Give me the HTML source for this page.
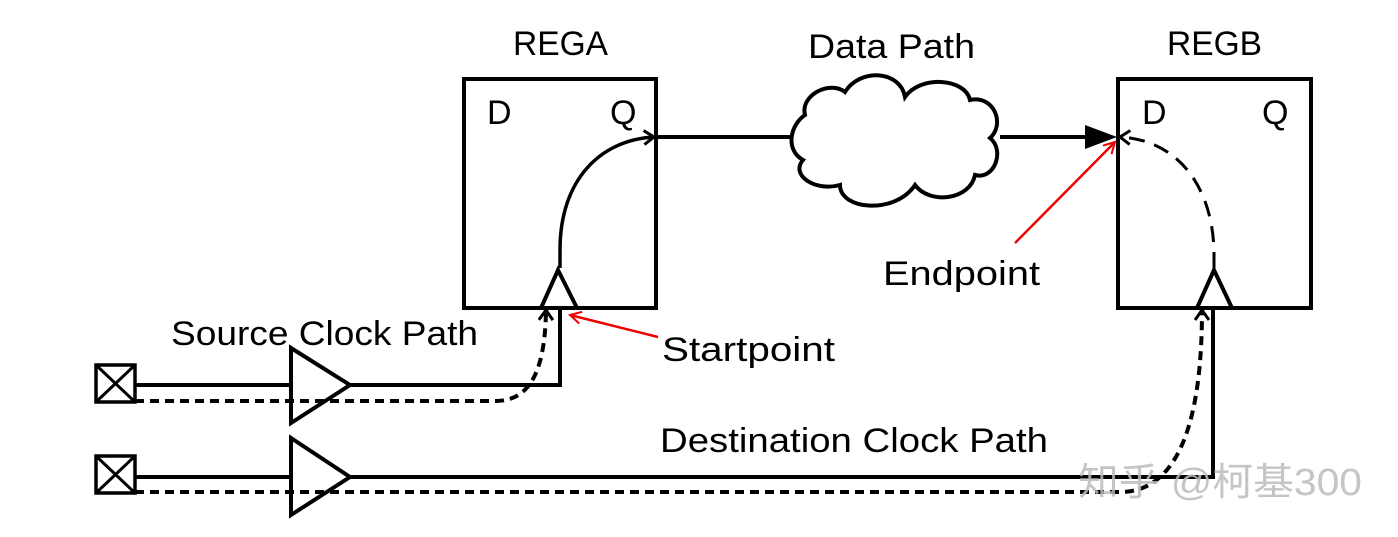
<!DOCTYPE html>
<html><head><meta charset="utf-8"><style>
html,body{margin:0;padding:0;background:#fff;}
svg{display:block}
text{font-family:"Liberation Sans","Noto Sans CJK SC",sans-serif;}
</style></head><body>
<svg width="1398" height="537" viewBox="0 0 1398 537" xmlns="http://www.w3.org/2000/svg">
<defs>
<marker id="open" markerWidth="16" markerHeight="16" refX="11" refY="8" orient="auto" markerUnits="userSpaceOnUse">
<path d="M1,1 L11,8 L1,15" fill="none" stroke="#000" stroke-width="3"/></marker>
<marker id="red" markerWidth="16" markerHeight="16" refX="12" refY="8" orient="auto" markerUnits="userSpaceOnUse">
<path d="M1,2 L12,8 L1,14" fill="none" stroke="#e00" stroke-width="2"/></marker>
</defs>
<g fill="none" stroke="#000" stroke-width="4">
<rect x="464" y="79" width="192" height="229"/>
<rect x="1118" y="79" width="193" height="229"/>
<path d="M541,308 L558,270 L577,308"/>
<path d="M1197,308 L1214,270 L1232,308"/>
<rect x="96" y="365" width="39" height="37" stroke-width="3.5"/>
<path d="M96,365 L135,402 M135,365 L96,402" stroke-width="3"/>
<rect x="96" y="456" width="39" height="37" stroke-width="3.5"/>
<path d="M96,456 L135,493 M135,456 L96,493" stroke-width="3"/>
<path d="M291,348 L350,385 L291,423 Z"/>
<path d="M291,438 L350,477 L291,515 Z"/>
<path d="M135,385 L291,385 M350,385 L560,385 L560,308"/>
<path d="M135,477 L291,477 M350,477 L1213,477 L1213,308"/>
<path d="M656,137 L793,137"/>
<path d="M1000,137 L1090,137"/>
</g>
<path d="M1085,125 L1117,137 L1085,149 Z" fill="#000"/>
<path d="M805,115 C800,95 830,80 845,92 C860,68 900,70 905,97 C920,75 965,78 970,100 C995,95 1005,125 990,138 C1005,150 995,180 975,175 C970,200 930,205 915,185 C895,215 840,210 840,185 C815,192 790,175 803,160 C785,150 790,125 805,115 Z" fill="#fff" stroke="#000" stroke-width="4"/>
<path d="M560,268 L560,250 C560,180 600,140 654,137" fill="none" stroke="#000" stroke-width="3.5" marker-end="url(#open)"/>
<path d="M1214,268 L1214,255 C1214,190 1180,140 1120,137" fill="none" stroke="#000" stroke-width="3" stroke-dasharray="16,10" marker-end="url(#open)"/>
<path d="M135,401 L495,401 C525,401 545,380 546,310" fill="none" stroke="#000" stroke-width="4" stroke-dasharray="9,6" marker-end="url(#open)"/>
<path d="M135,492 L1120,492 C1170,492 1202,440 1202,310" fill="none" stroke="#000" stroke-width="4" stroke-dasharray="9,6" marker-end="url(#open)"/>
<path d="M658,337 L570,315" fill="none" stroke="#e00" stroke-width="2.5" marker-end="url(#red)"/>
<path d="M1015,243 L1115,142" fill="none" stroke="#e00" stroke-width="2.5" marker-end="url(#red)"/>
<g font-size="34" fill="#000">
<text x="513" y="55" textLength="95" lengthAdjust="spacingAndGlyphs">REGA</text>
<text x="808" y="58" textLength="167" lengthAdjust="spacingAndGlyphs">Data Path</text>
<text x="1167" y="55" textLength="95" lengthAdjust="spacingAndGlyphs">REGB</text>
<text x="487" y="124">D</text>
<text x="610" y="124">Q</text>
<text x="1142" y="124">D</text>
<text x="1262" y="124">Q</text>
<text x="883" y="285" textLength="157" lengthAdjust="spacingAndGlyphs">Endpoint</text>
<text x="171" y="345" textLength="307" lengthAdjust="spacingAndGlyphs">Source Clock Path</text>
<text x="662" y="361" textLength="173" lengthAdjust="spacingAndGlyphs">Startpoint</text>
<text x="660" y="452" textLength="388" lengthAdjust="spacingAndGlyphs">Destination Clock Path</text>
</g>
<text x="1078" y="495" font-size="38" fill="#bbb" opacity="0.85" textLength="284" lengthAdjust="spacingAndGlyphs">知乎 @柯基300</text>
</svg>
</body></html>
